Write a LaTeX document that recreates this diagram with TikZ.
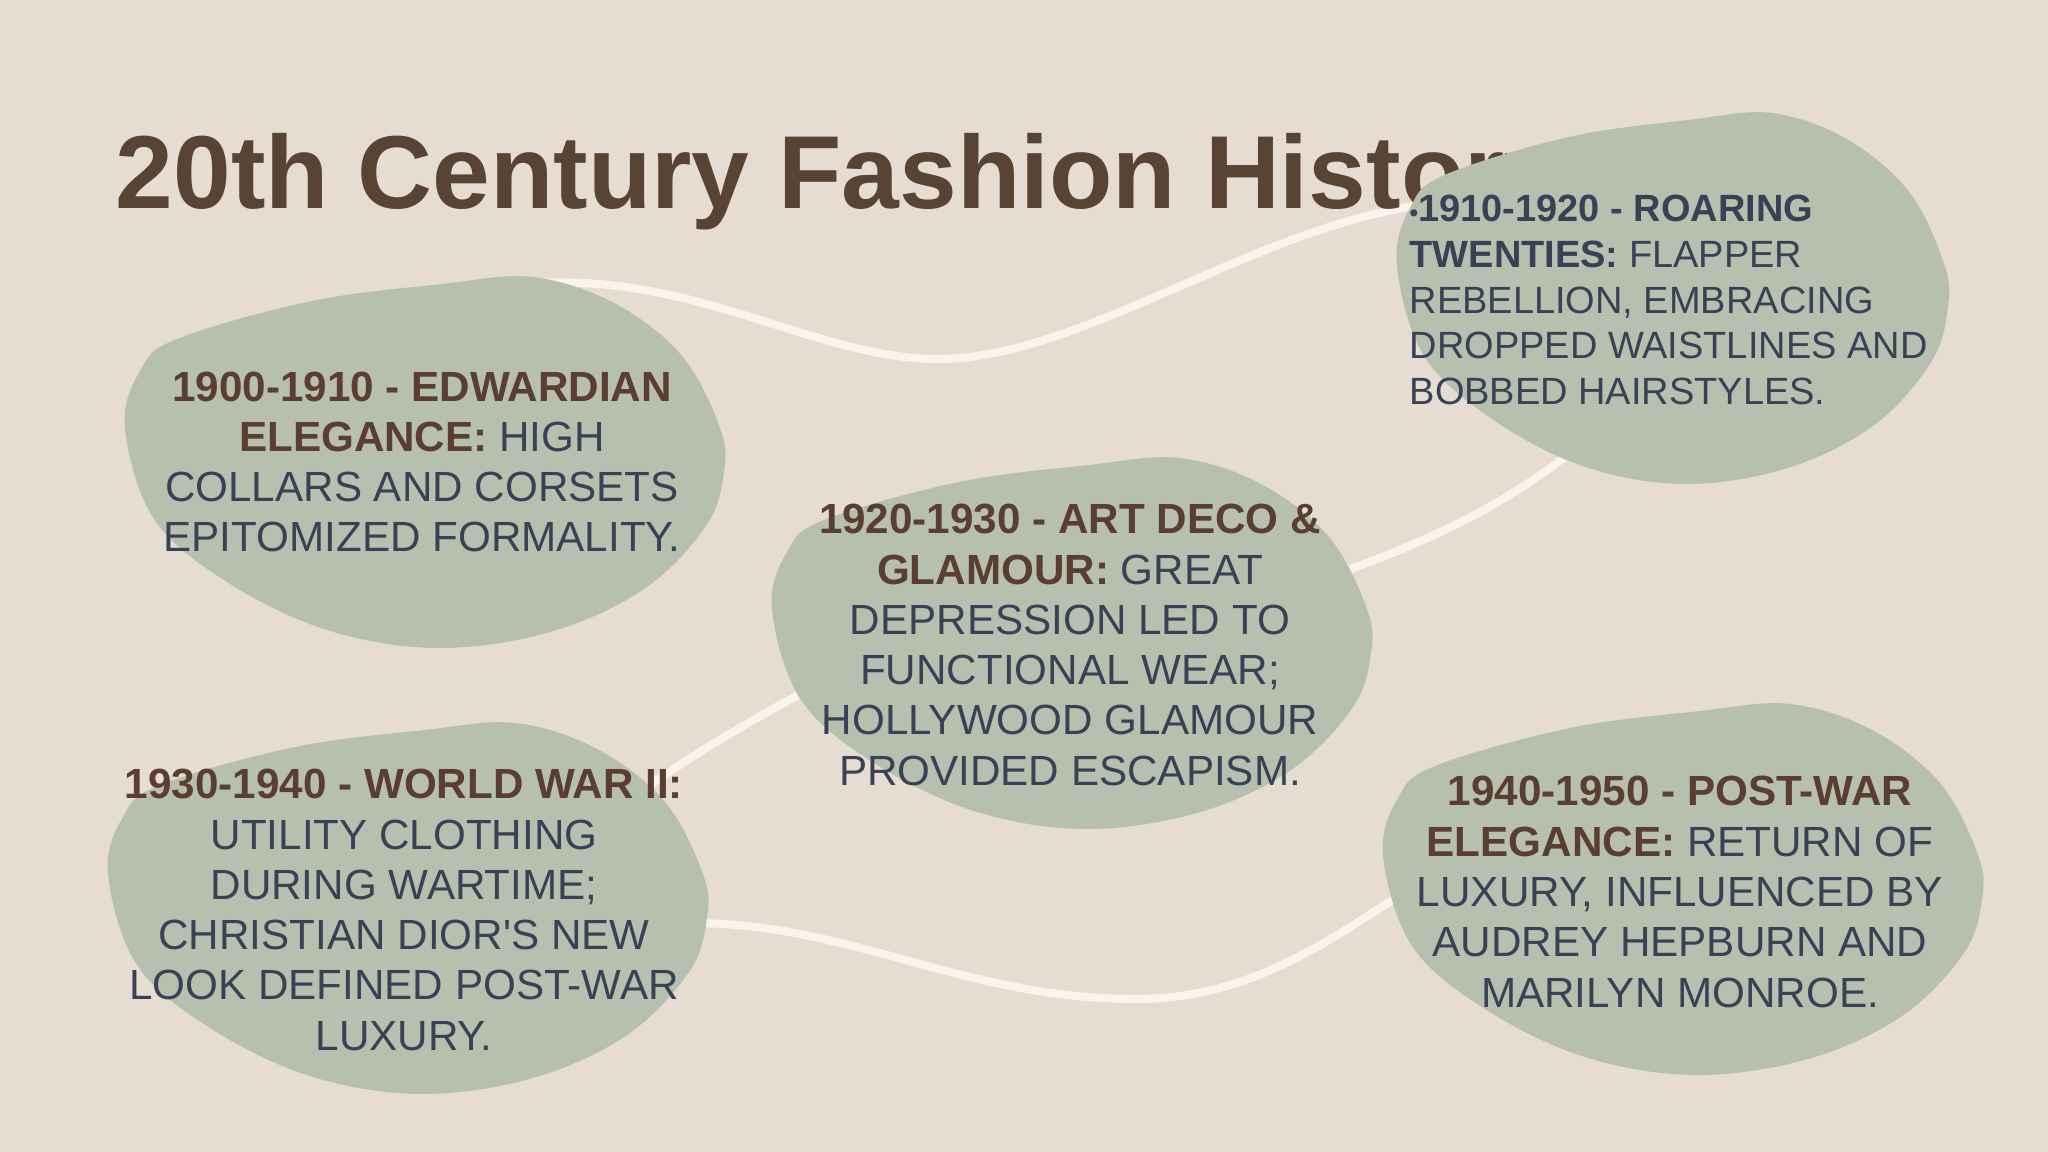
\documentclass[tikz,border=0pt]{standalone}
\usepackage{fontspec}
\setmainfont{Liberation Sans}
\usepackage{xcolor}
\definecolor{paper}{HTML}{E6DCD1}
\definecolor{sage}{HTML}{B7C0AF}
\definecolor{thread}{HTML}{FBF4EE}
\definecolor{cocoa}{HTML}{574434}
\definecolor{rust}{HTML}{593E31}
\definecolor{slate}{HTML}{394255}
\tikzset{
  blob/.pic={\fill[sage] plot[smooth cycle, tension=0.6] coordinates {(-297,-36) (-282,-93) (-245,-125) (-110,-163) (20,-180) (110,-187) (192,-161) (260,-108) (298,-36) (302,8) (284,62) (222,125) (128,168) (15,184) (-95,166) (-195,118) (-268,55)};},
  era/.style={align=center, inner sep=0pt, text=slate, font=\fontsize{12}{14.3}\selectfont},
  seam/.style={draw=thread, line width=2.3pt, line cap=round}
}
\newcommand{\head}[1]{\textbf{\color{rust}#1}}

\begin{document}
\begin{tikzpicture}[x=0.01cm, y=-0.01cm]
  \fill[paper] (0,0) rectangle (2048,1152);
  \useasboundingbox (0,0) rectangle (2048,1152);

  % thread ends, tucked under the blobs
  \coordinate (a1) at (540,283);
  \coordinate (a2) at (1420,205);
  \coordinate (b1) at (1320,580);
  \coordinate (b2) at (1580,445);
  \coordinate (c1) at (650,785);
  \coordinate (c2) at (830,678);
  \coordinate (d1) at (680,923);
  \coordinate (d2) at (1400,895);
  \draw[seam] (a1) .. controls (700,275) and (820,360) .. (940,359) .. controls (1080,358) and (1250,230) .. (a2);
  \draw[seam] (b1) .. controls (1420,545) and (1500,510) .. (b2);
  \draw[seam] (c1) .. controls (700,750) and (760,715) .. (c2);
  \draw[seam] (d1) .. controls (850,920) and (960,1000) .. (1140,999) .. controls (1250,998) and (1330,940) .. (d2);

  \node[anchor=base west, inner sep=0pt, text=cocoa, font=\fontsize{29.5}{35}\selectfont\bfseries] (title) at (115,209) {20th Century Fashion History};

  \pic at (422,464) {blob};
  \pic[xscale=0.92] at (1670,300) {blob};
  \pic at (1069,645) {blob};
  \pic at (405,910) {blob};
  \pic at (1680,891) {blob};

  \node[era] (edwardian) at (422,462) {\head{1900-1910 - EDWARDIAN}\\ \head{ELEGANCE:} HIGH\\ COLLARS AND CORSETS\\ EPITOMIZED FORMALITY.};
  \node[era, align=left, anchor=west, font=\fontsize{10.8}{13}\selectfont] (roaring) at (1409,300) {\textbf{{\scriptsize•}1910-1920 - ROARING}\\ \textbf{TWENTIES:} FLAPPER\\ REBELLION, EMBRACING\\ DROPPED WAISTLINES AND\\ BOBBED HAIRSTYLES.};
  \node[era] (artdeco) at (1070,645) {\head{1920-1930 - ART DECO \&}\\ \head{GLAMOUR:} GREAT\\ DEPRESSION LED TO\\ FUNCTIONAL WEAR;\\ HOLLYWOOD GLAMOUR\\ PROVIDED ESCAPISM.};
  \node[era] (wartime) at (404,910) {\head{1930-1940 - WORLD WAR II:}\\ UTILITY CLOTHING\\ DURING WARTIME;\\ CHRISTIAN DIOR\textquotesingle S NEW\\ LOOK DEFINED POST-WAR\\ LUXURY.};
  \node[era] (postwar) at (1680,892) {\head{1940-1950 - POST-WAR}\\ \head{ELEGANCE:} RETURN OF\\ LUXURY, INFLUENCED BY\\ AUDREY HEPBURN AND\\ MARILYN MONROE.};
\end{tikzpicture}
\end{document}
